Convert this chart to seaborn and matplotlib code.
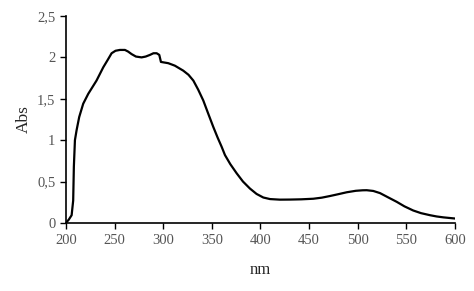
import numpy as np
import pandas as pd
import matplotlib
matplotlib.use("Agg")
import matplotlib.pyplot as plt
import seaborn as sns
from matplotlib.ticker import FuncFormatter

wavelength = [200, 203, 205.9, 207.5, 208.2, 209.3, 211, 213.7, 217.8, 223, 231.5, 238.4, 243, 247,
              251, 255.5, 260.7, 264, 267.5, 272, 277.8, 282, 286.4, 290, 293.3, 296, 297.7, 305.2, 312,
              320.6, 326, 331, 336, 341.2, 346, 351.5, 356, 360.1, 363.5, 369, 375.5, 382, 389.2, 396,
              402.9, 409.8, 420, 430.3, 442, 454.3, 463, 471.5, 480, 488.6, 498, 505, 509.2, 516, 522.9,
              531, 540, 548, 557, 565, 574.3, 581, 588, 594, 600]
absorbance = [0.0, 0.04, 0.093, 0.27, 0.68, 1.0, 1.12, 1.28, 1.44, 1.56, 1.72, 1.88, 1.97, 2.05,
              2.08, 2.09, 2.09, 2.07, 2.04, 2.01, 2.0, 2.01, 2.03, 2.05, 2.05, 2.03, 1.945, 1.93, 1.9,
              1.84, 1.79, 1.72, 1.61, 1.48, 1.33, 1.16, 1.03, 0.92, 0.82, 0.71, 0.60, 0.5, 0.415, 0.35,
              0.307, 0.288, 0.281, 0.282, 0.285, 0.292, 0.305, 0.325, 0.347, 0.37, 0.388, 0.394, 0.395, 0.386, 0.36,
              0.31, 0.255, 0.2, 0.15, 0.118, 0.093, 0.078, 0.067, 0.06, 0.053]
x_ticks = [200, 250, 300, 350, 400, 450, 500, 550, 600]
y_ticks = [0, 0.5, 1, 1.5, 2, 2.5]

df = pd.DataFrame({"nm": wavelength, "Abs": absorbance})

sns.set_style("ticks")
plt.rcParams["font.family"] = ["Liberation Serif", "DejaVu Serif"]

fig = plt.figure(figsize=(4.74, 2.91), dpi=100)
ax = fig.add_axes([0.139, 0.234, 0.821, 0.711])
sns.lineplot(data=df, x="nm", y="Abs", ax=ax, color="black", linewidth=1.6)

ax.set_xlim(200, 600)
ax.set_ylim(0, 2.5)
ax.set_xticks(x_ticks)
ax.set_yticks(y_ticks)
ax.yaxis.set_major_formatter(FuncFormatter(lambda v, p: ("%g" % v).replace(".", ",")))
ax.tick_params(axis="both", direction="out", length=4, width=1, colors="black",
               labelcolor="#555555", labelsize=10.5)
ax.tick_params(axis="x", pad=4)
for s in ["top", "right"]:
    ax.spines[s].set_visible(False)
for s in ["left", "bottom"]:
    ax.spines[s].set_linewidth(1.2)
    ax.spines[s].set_color("black")
ax.set_xlabel("nm", fontsize=12, labelpad=11)
ax.set_ylabel("Abs", fontsize=12.5, labelpad=3.5)

fig.savefig("out.png", dpi=100)
